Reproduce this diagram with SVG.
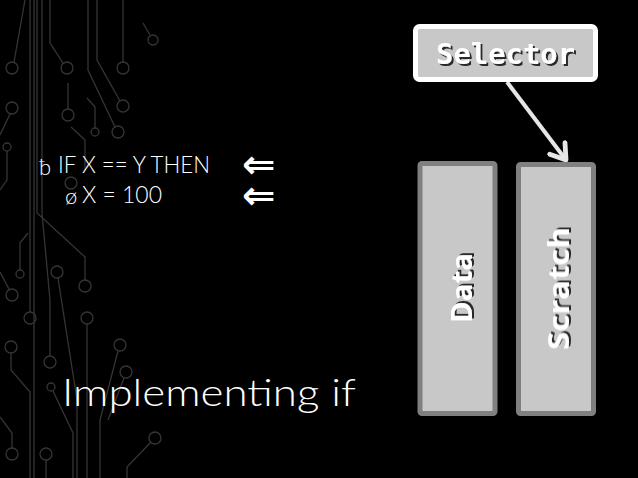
<svg xmlns="http://www.w3.org/2000/svg" width="638" height="478" viewBox="0 0 638 478">
<defs>
<style>
.bg{fill:none;stroke:#353535;stroke-width:1.3}
.txt{font-family:Lato,"Open Sans",sans-serif;font-weight:300;fill:#ffffff}
.lbl{font-family:"Open Sans","DejaVu Sans",sans-serif;font-weight:700;font-size:29px;text-anchor:middle;fill:#ffffff;filter:url(#shadow)}
.box{fill:#c8c8c8;stroke:#808080;stroke-width:5}
.arr{font-family:"DejaVu Sans",sans-serif;font-weight:700;font-size:40px;fill:#ffffff}
</style>
<filter id="shadow" x="-20%" y="-20%" width="140%" height="140%">
<feDropShadow dx="2" dy="2" stdDeviation="0.4" flood-color="#2a2a2a" flood-opacity="1"/>
</filter>
<marker id="head" markerUnits="userSpaceOnUse" markerWidth="24" markerHeight="24" refX="0" refY="0" viewBox="-14 -10 16 20" orient="auto">
<path d="M-12,-8 L0,0 L-12,8" fill="none" stroke="#e6e6e6" stroke-width="4" stroke-linecap="round" stroke-linejoin="round"/>
</marker>
</defs>
<rect width="638" height="478" fill="#000"/>
<g id="circuit" class="bg">
<path d="M30,0 V312"/><circle cx="30" cy="318" r="6"/>
<path d="M34,0 V478"/>
<path d="M37,0 V213 L85,257 V280"/><circle cx="85" cy="286" r="6"/>
<path d="M42,0 V213 L50,300 V356"/><circle cx="50" cy="362" r="6"/>
<circle cx="57" cy="272" r="6"/><path d="M58,278 L77,400 V478"/>
<circle cx="87" cy="318" r="6"/><path d="M87,324 V478"/>
<circle cx="120" cy="345" r="6"/><path d="M118,351 L100,420 V478"/>
<circle cx="11" cy="347" r="6"/><path d="M11,353 V370 L30,392 V478"/>
<circle cx="155" cy="438" r="6"/><path d="M151,442 L127,467 V478"/>
<circle cx="12" cy="454" r="6"/><path d="M0,417 L12,433 V448"/>
<circle cx="46" cy="454" r="6"/><path d="M46,460 V478"/>
<circle cx="51" cy="387" r="4"/><path d="M53,391 L73,433 V478"/>
<circle cx="126" cy="372" r="6"/><path d="M124,378 L108,420"/>
<circle cx="67" cy="68" r="6"/><path d="M50,0 V43 L63,63"/>
<circle cx="12" cy="68" r="6"/><path d="M25,0 L14,62"/>
<circle cx="123" cy="68" r="6"/><path d="M123,0 V62"/>
<circle cx="123" cy="106" r="6"/><path d="M97,0 V60 L120,101"/>
<circle cx="118" cy="132" r="6"/><path d="M88,0 V70 L115,127"/>
<circle cx="68" cy="115" r="6"/><path d="M68,83 V109"/>
<circle cx="12" cy="108" r="6"/><path d="M10,114 L0,135"/>
<circle cx="7" cy="147" r="4"/><path d="M7,151 V180 L0,190"/>
<circle cx="95" cy="132" r="4"/><path d="M95,128 V107 L87,98"/>
<circle cx="71" cy="183" r="6"/><path d="M71,127 L85,140 V170"/>
<circle cx="20" cy="274" r="4"/><path d="M20,270 V243 L28,233"/>
<circle cx="12" cy="295" r="6"/><path d="M9,289 L0,272"/>
<circle cx="153" cy="40" r="5"/><path d="M143,23 L150,35"/>
</g>
<g id="bullets">
<text class="txt" x="39" y="175" font-size="22">ƀ</text>
<text class="txt" x="58" y="173" font-size="24" textLength="152" lengthAdjust="spacingAndGlyphs">IF X == Y THEN</text>
<text class="txt" x="65" y="204" font-size="22">ø</text>
<text class="txt" x="82" y="203" font-size="24" textLength="80" lengthAdjust="spacingAndGlyphs">X = 100</text>
<text class="arr" x="242" y="178">⇐</text>
<text class="arr" x="242" y="209">⇐</text>
</g>
<g id="title">
<text class="txt" x="62" y="406" font-size="38" textLength="294" lengthAdjust="spacingAndGlyphs">Implementing if</text>
</g>
<g id="connectors">
<path d="M507,82 L566,160" fill="none" stroke="#e6e6e6" stroke-width="4" marker-end="url(#head)"/>
</g>
<g id="selector">
<rect x="415.5" y="26.5" width="180" height="53" rx="4" fill="#c8c8c8" stroke="#ffffff" stroke-width="5"/>
<text x="505.5" y="64" font-family="'DejaVu Sans Mono',monospace" font-weight="700" font-size="28" text-anchor="middle" fill="#ffffff" filter="url(#shadow)" textLength="139" lengthAdjust="spacingAndGlyphs">Selector</text>
</g>
<g id="data">
<rect class="box" x="420" y="163.5" width="75" height="250" rx="2"/>
<text class="lbl" transform="translate(472,288) rotate(-90)" textLength="70" lengthAdjust="spacingAndGlyphs">Data</text>
</g>
<g id="scratch">
<rect class="box" x="518.5" y="164.5" width="75" height="249" rx="2"/>
<text class="lbl" transform="translate(569,288.5) rotate(-90)" textLength="123" lengthAdjust="spacingAndGlyphs">Scratch</text>
</g>
</svg>
